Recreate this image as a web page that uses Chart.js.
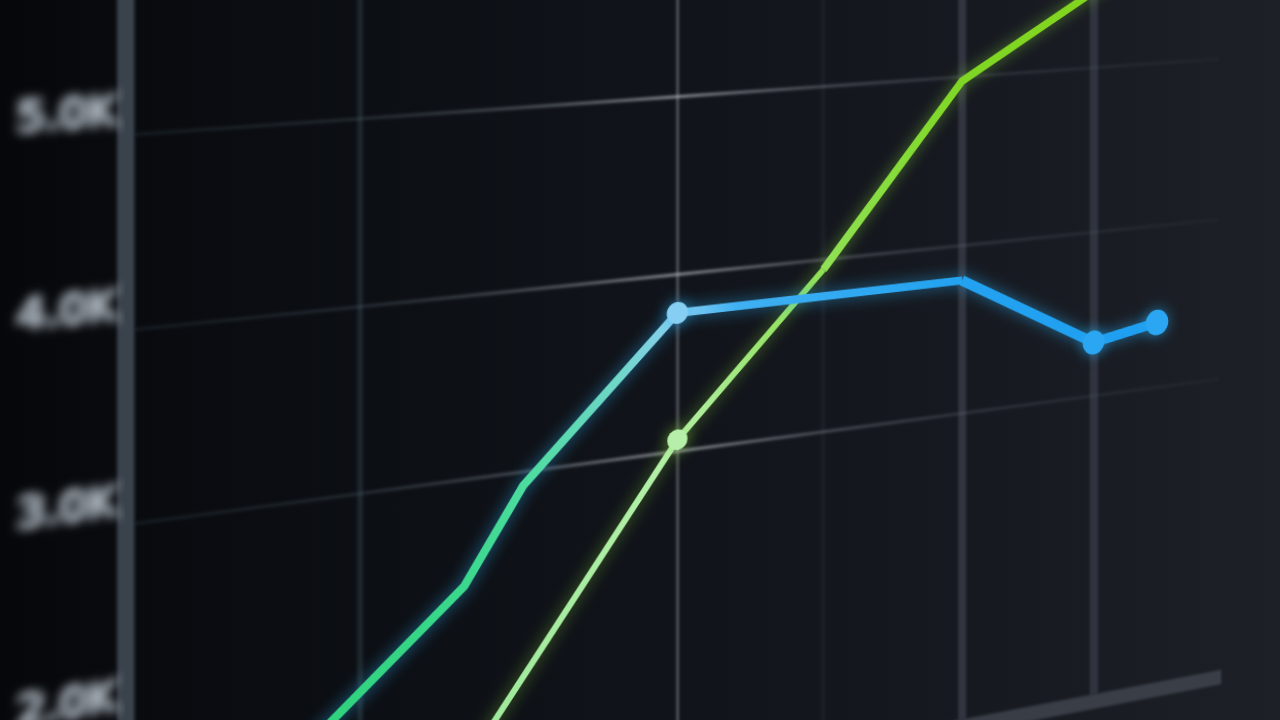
<!DOCTYPE html>
<html>
<head>
<meta charset="utf-8">
<script src="https://cdn.jsdelivr.net/npm/chart.js@4.4.1/dist/chart.umd.min.js"></script>
<style>
  html, body { margin: 0; padding: 0; background: #07090c; overflow: hidden; }
  /* the screen is photographed at an angle: right side further away */
  #stage {
    position: relative; width: 1280px; height: 720px; overflow: hidden;
    background: linear-gradient(90deg, #05070a 0%, #080a0e 9%, #0c0f14 30%, #11141a 55%, #171a21 80%, #1d2026 100%);
    perspective: 1190px; perspective-origin: 640px -290px;
  }
  #flat {
    position: absolute; left: 0; top: -70px; width: 1500px; height: 910px;
    transform-origin: 640px -220px; transform: rotateY(12deg);
  }
</style>
</head>
<body>
<div id="stage"><div id="flat"><canvas id="chart-1"></canvas></div></div>
<script>
// series A (green -> blue), series B (pale green -> lime)
const xA = [-0.5, 0.63, 1, 2, 4, 5, 5.5];
const yA = [1560, 2420, 2925, 3780, 3790, 3325, 3400];
const xB = [0.5, 2, 3, 4, 5, 6];
const yB = [1280, 3065, 3940, 4975, 5465, 5900];

// axis ticks
const yTicks = [2000, 3000, 4000, 5000];
const yTickLabels = ['2.0K', '3.0K', '4.0K', '5.0K'];
const xGridTicks = [0, 2, 3, 4, 5];

// vertical grid look (focus is around x=2)
const vGridColor = {0: 'rgba(50,66,74,0.5)', 2: 'rgba(190,198,204,0.8)', 3: 'rgba(55,60,70,0.22)', 4: 'rgba(66,71,84,0.6)', 5: 'rgba(66,71,84,0.55)'};
const vGridWidth = {0: 5, 2: 1.3, 3: 5, 4: 9, 5: 10};

const glow = ['rgba(40,170,240,0.6)', 'rgba(140,220,60,0.5)'];

function gradientX(ctx, stops) {
  const chart = ctx.chart;
  const xs = chart.scales.x;
  if (!chart.chartArea || !xs) return stops[0][1];
  const x0 = xs.getPixelForValue(stops[0][0]);
  const x1 = xs.getPixelForValue(stops[stops.length - 1][0]);
  const g = chart.ctx.createLinearGradient(x0, 0, x1, 0);
  stops.forEach(function (s) {
    g.addColorStop((xs.getPixelForValue(s[0]) - x0) / (x1 - x0), s[1]);
  });
  return g;
}

function hGrid(c) {
  if (!c.tick || c.tick.value === 2000) return 'transparent';
  return gradientX(c, [
    [-1.35, 'rgba(55,75,85,0.3)'],
    [0, 'rgba(80,96,106,0.4)'],
    [1, 'rgba(135,143,153,0.55)'],
    [2, 'rgba(180,185,192,0.85)'],
    [3, 'rgba(140,145,155,0.5)'],
    [4, 'rgba(100,105,116,0.4)'],
    [6, 'rgba(80,85,95,0.12)']
  ]);
}

// blur for the out-of-focus parts of the photo, glow for the lines
const focusBlur = {
  id: 'focusBlur',
  beforeDraw(chart) { chart.ctx.save(); chart.ctx.filter = 'blur(1.5px)'; },
  beforeDatasetsDraw(chart) { chart.ctx.restore(); },
  beforeDatasetDraw(chart, args) {
    const c = chart.ctx;
    c.save();
    c.shadowColor = glow[args.index];
    c.shadowBlur = 16;
  },
  afterDatasetDraw(chart) { chart.ctx.restore(); },
  afterDatasetsDraw(chart) { chart.ctx.save(); chart.ctx.filter = 'blur(5px)'; },
  afterDraw(chart) { chart.ctx.restore(); }
};

const ctx1 = document.getElementById('chart-1');

new Chart(ctx1, {
  type: 'line',
  data: {
    datasets: [{
      data: xA.map(function (x, i) { return {x: x, y: yA[i]}; }),
      borderColor: function (c) {
        return gradientX(c, [[-0.5, '#2ccf78'], [0.63, '#3ad88c'], [1, '#4cdc9e'], [1.6, '#6fd6c8'], [2, '#8ad0f2'], [2.4, '#3fb0f2'], [4, '#22a2f0'], [5.5, '#1f9ff0']]);
      },
      borderWidth: 8.5,
      segment: { borderWidth: function (s) { return s.p0.parsed.x >= 4 ? 11 : 8.5; } },
      tension: 0,
      pointRadius: [0, 0, 0, 11, 0, 13, 14],
      pointBackgroundColor: ['#2ccf78', '#3ad88c', '#4cdc9e', '#86cff2', '#22a2f0', '#2aa6f2', '#2aa6f2'],
      pointBorderWidth: 0
    }, {
      data: xB.map(function (x, i) { return {x: x, y: yB[i]}; }),
      borderColor: function (c) {
        return gradientX(c, [[0.5, '#9ae89a'], [2, '#b4f0a8'], [2.6, '#98e46c'], [3.5, '#86dc3a'], [4, '#7fd624'], [6, '#86d418']]);
      },
      borderWidth: 6.5,
      segment: { borderWidth: function (s) { return s.p0.parsed.x >= 3 ? 8.5 : 6.5; } },
      tension: 0,
      pointRadius: [0, 10.5, 0, 0, 0, 0],
      pointBackgroundColor: '#b6efaa',
      pointBorderWidth: 0
    }]
  },
  options: {
    responsive: true,
    maintainAspectRatio: false,
    animation: false,
    layout: { padding: { left: 0, right: 200, top: 30, bottom: 0 } },
    plugins: {
      legend: { display: false },
      tooltip: { enabled: false }
    },
    scales: {
      x: {
        type: 'linear', min: -1.35, max: 6,
        afterBuildTicks: function (ax) { ax.ticks = xGridTicks.map(function (v) { return {value: v}; }); },
        afterFit: function (ax) { ax.height = 51; },
        ticks: { display: false },
        grid: {
          drawTicks: false,
          color: function (c) { return c.tick ? (vGridColor[c.tick.value] || 'transparent') : 'transparent'; },
          lineWidth: function (c) { return c.tick ? (vGridWidth[c.tick.value] || 1) : 1; }
        },
        border: { display: true, color: 'rgba(70,76,86,0.7)', width: 16 }
      },
      y: {
        type: 'linear', min: 1135, max: 5780,
        afterBuildTicks: function (ax) { ax.ticks = yTicks.map(function (v) { return {value: v}; }); },
        afterFit: function (ax) { ax.width = 158; },
        ticks: {
          callback: function (v) { return yTickLabels[yTicks.indexOf(v)]; },
          color: 'rgba(218,226,234,0.92)',
          font: { family: 'DejaVu Sans', size: 37 },
          textStrokeColor: 'rgba(200,212,224,0.45)',
          textStrokeWidth: 5,
          padding: 8,
          labelOffset: -20,
          z: 1
        },
        grid: { drawTicks: false, color: hGrid, lineWidth: 2.5 },
        border: { display: true, color: '#3a424c', width: 15 }
      }
    }
  },
  plugins: [focusBlur]
});
</script>
</body>
</html>
